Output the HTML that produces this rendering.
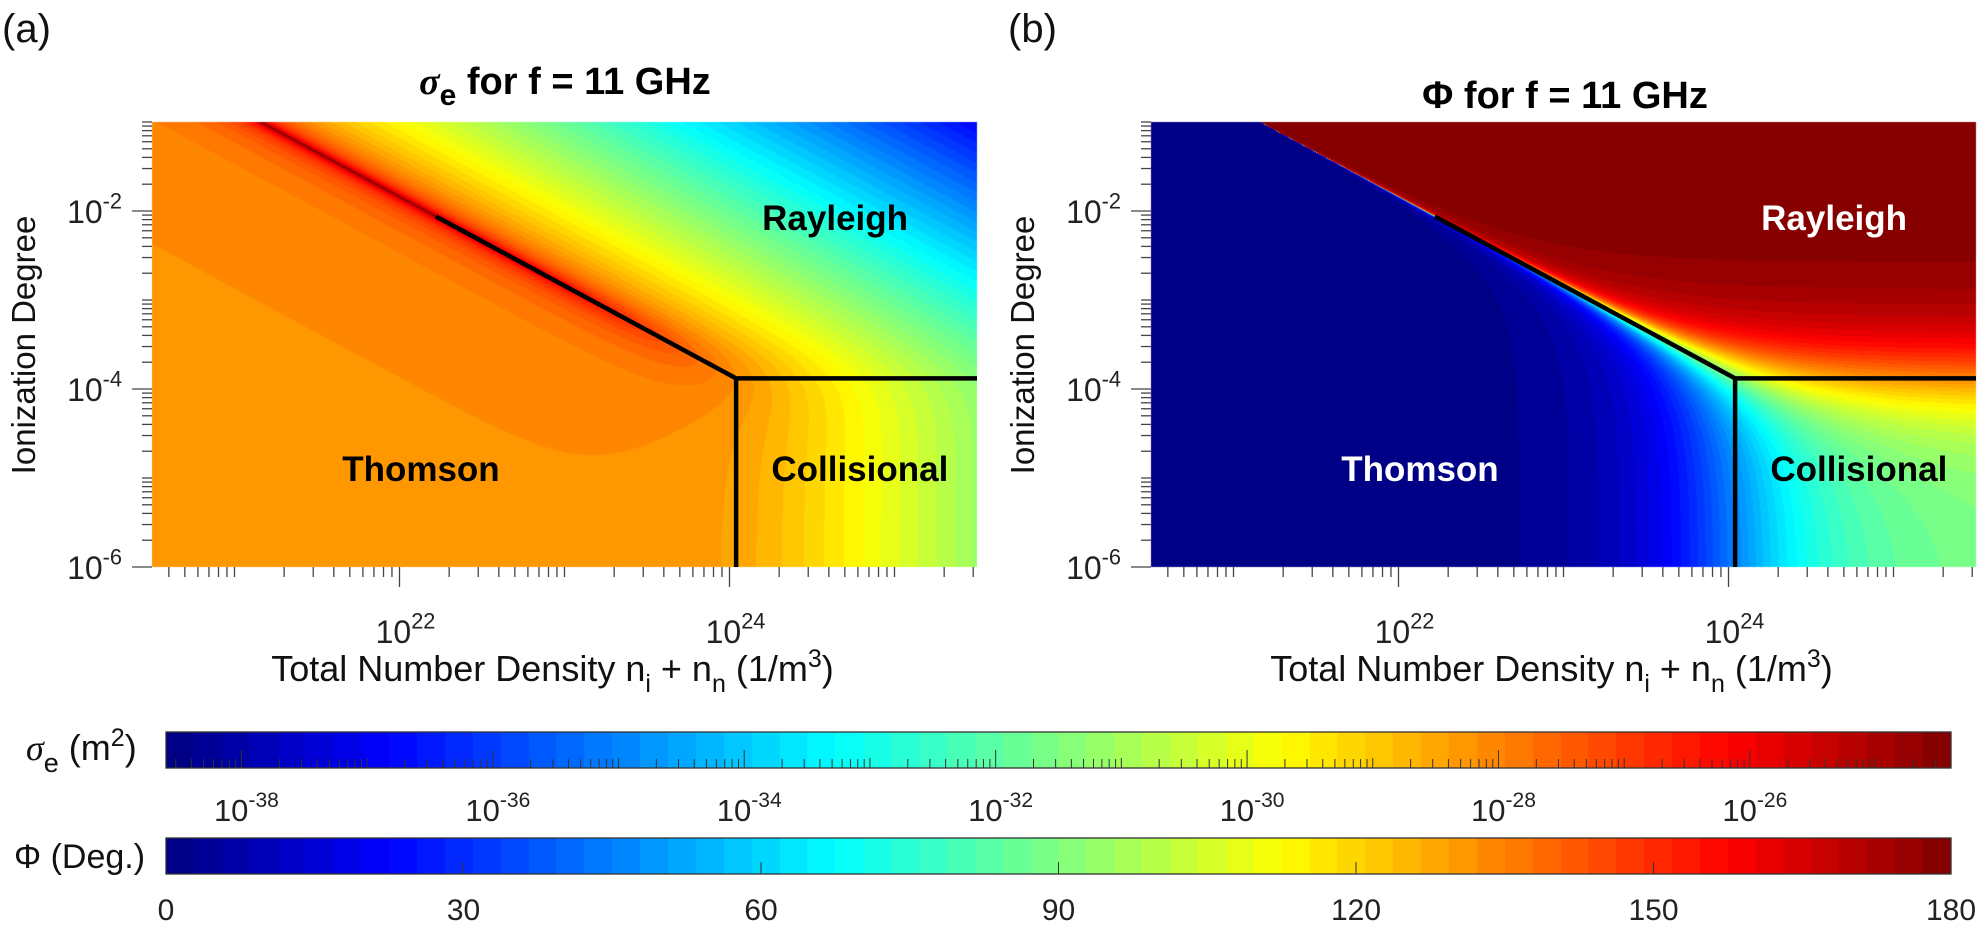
<!DOCTYPE html>
<html><head><meta charset="utf-8"><style>
html,body{margin:0;padding:0;background:#fff;}
#wrap{position:relative;width:1984px;height:926px;overflow:hidden;font-family:"Liberation Sans",sans-serif;}
canvas{position:absolute;left:0;top:0;}
svg{position:absolute;left:0;top:0;}
</style></head><body>
<div id="wrap">
<canvas id="cv" width="1984" height="926"></canvas>
<svg id="sv" width="1984" height="926" xmlns="http://www.w3.org/2000/svg"></svg>
</div>
<script>
// ---- data ----
const xRange = [20.5, 25.5];          // log10 total number density
const yRange = [-6, -1];              // log10 ionization degree
const xTickExps = [22, 24];
const yTickExps = [-6, -4, -2];
const cb1Range = [-38.6, -24.4];
const cb1TickExps = [-38, -36, -34, -32, -30, -28, -26];
const cb2Range = [0, 180];
const cb2Ticks = [0, 30, 60, 90, 120, 150, 180];
const logSigmaT = -28.18;             // Thomson cross-section (log10 m^2)
const logNeCrit = 20.16;              // plasma resonance electron density
const logNCollide = 24.04;            // collision frequency = wave frequency
const boundaryX = [22.22, 24.04, 25.5];
const boundaryY = [-2.06, -3.88, -3.88];
const vertX = [24.04, 24.04];
const vertY = [-3.88, -6];
const regionNames = ["Rayleigh", "Thomson", "Collisional"];
const regionX = [24.64, 22.13, 24.79];
const regionY = [-2.08, -4.9, -4.9];

// ---- layout ----
const panels = [
  {L:152, R:977, T:122, B:567, key:'a'},
  {L:1151, R:1976, T:122, B:567, key:'b'}
];
const CB = {L:166, R:1951, t1:732, b1:768, t2:838, b2:874};

function sx(p, v){ return p.L + (v - xRange[0])/(xRange[1]-xRange[0])*(p.R-p.L); }
function sy(p, v){ return p.B - (v - yRange[0])/(yRange[1]-yRange[0])*(p.B-p.T); }
function invx(p, px){ return xRange[0] + (px - p.L)/(p.R-p.L)*(xRange[1]-xRange[0]); }
function invy(p, py){ return yRange[0] + (p.B - py)/(p.B-p.T)*(yRange[1]-yRange[0]); }

function jet(t){
  t = Math.max(0, Math.min(0.99999, t));
  t = (Math.floor(t*64)+0.5)/64;
  const c = v => Math.round(255*Math.max(0, Math.min(1, v)));
  return [c(1.5-Math.abs(4*t-3)), c(1.5-Math.abs(4*t-2)), c(1.5-Math.abs(4*t-1))];
}
function model(lx, ly){
  const P = Math.pow(10, lx + ly - logNeCrit);
  const Q = Math.pow(10, lx - logNCollide);
  const den = (1-P)*(1-P) + Q*Q;
  const ls = logSigmaT - Math.log10(den);
  const ph = Math.atan2(Q, 1-P)*180/Math.PI;
  return [ls, ph];
}

const cv = document.getElementById('cv');
const ctx = cv.getContext('2d');
const img = ctx.createImageData(1984, 926);
function setPx(x, y, c){ const i=(y*1984+x)*4; img.data[i]=c[0]; img.data[i+1]=c[1]; img.data[i+2]=c[2]; img.data[i+3]=255; }
for (let i=0;i<img.data.length;i+=4){ img.data[i]=255; img.data[i+1]=255; img.data[i+2]=255; img.data[i+3]=255; }
panels.forEach((p, k) => {
  for (let py=p.T; py<p.B; py++){
    const ly = invy(p, py+0.5);
    for (let px=p.L; px<p.R; px++){
      const lx = invx(p, px+0.5);
      const m = model(lx, ly);
      const t = k===0 ? (m[0]-cb1Range[0])/(cb1Range[1]-cb1Range[0]) : (m[1]-cb2Range[0])/(cb2Range[1]-cb2Range[0]);
      setPx(px, py, jet(t));
    }
  }
});
for (let px=CB.L; px<CB.R; px++){
  const c = jet((px-CB.L+0.5)/(CB.R-CB.L));
  for (let py=CB.t1; py<CB.b1; py++) setPx(px, py, c);
  for (let py=CB.t2; py<CB.b2; py++) setPx(px, py, c);
}
ctx.putImageData(img, 0, 0);

// ---- svg overlay ----
const NS = 'http://www.w3.org/2000/svg';
const sv = document.getElementById('sv');
function el(tag, attrs, parent){
  const e = document.createElementNS(NS, tag);
  for (const k in attrs) e.setAttribute(k, attrs[k]);
  (parent||sv).appendChild(e);
  return e;
}
function powText(x, y, base, exp, size, anchor, name){
  const t = el('text', {x:x, y:y, 'font-size':size, 'text-anchor':anchor, fill:'#222'});
  
  
  const a = el('tspan', {}, t); a.textContent = base;
  const b = el('tspan', {dy:-size*0.45, 'font-size':size*0.68}, t); b.textContent = exp;
  return t;
}
function txt(x, y, s, attrs, name){
  const t = el('text', Object.assign({x:x, y:y}, attrs));
  t.textContent = s;
  
  
  return t;
}

panels.forEach((p, k) => {
  const g = el('g', {});
  
  
  for (let d=yRange[0]; d<yRange[1]; d++){
    for (let m=1; m<10; m++){
      const v = d + Math.log10(m);
      if (v > yRange[1]+1e-9) continue;
      const y = sy(p, v);
      const len = m===1 && yTickExps.includes(d) ? 20 : 10;
      const tk = el('line', {x1:p.L-len, x2:p.L, y1:y, y2:y, stroke:'#444', 'stroke-width':1.3}, g);
      
      
    }
  }
  el('line', {x1:p.L-10, x2:p.L, y1:p.T, y2:p.T, stroke:'#444', 'stroke-width':1.3}, g);
  for (let d=Math.floor(xRange[0]); d<=Math.ceil(xRange[1]); d++){
    for (let m=1; m<10; m++){
      const v = d + Math.log10(m);
      if (v < xRange[0]-1e-9 || v > xRange[1]+1e-9) continue;
      const x = sx(p, v);
      const len = m===1 && xTickExps.includes(d) ? 20 : 10;
      const tk = el('line', {x1:x, x2:x, y1:p.B, y2:p.B+len, stroke:'#444', 'stroke-width':1.3}, g);
      
      
    }
  }
  yTickExps.forEach(e => powText(p.L-30, sy(p, e)+12, '10', '-'+Math.abs(e), 32, 'end', 'y-tick-label'));
  xTickExps.forEach(e => powText(sx(p, e)+6, 643, '10', String(e), 32, 'middle', 'x-tick-label'));
  const pts = boundaryX.map((v,i) => sx(p,v)+','+sy(p,boundaryY[i])).join(' ');
  const bl = el('polyline', {points:pts, fill:'none', stroke:'#000', 'stroke-width':4.5, 'stroke-linejoin':'miter'}, g);
  
  
  const vl = el('line', {x1:sx(p,vertX[0]), x2:sx(p,vertX[1]), y1:sy(p,vertY[0]), y2:sy(p,vertY[1]), stroke:'#000', 'stroke-width':4.5}, g);
  
  
  regionNames.forEach((n, i) => {
    const col = k===1 && i<2 ? '#fff' : '#000';
    txt(sx(p, regionX[i]), sy(p, regionY[i])+12, n, {'font-size':35, 'font-weight':'bold', 'text-anchor':'middle', fill:col}, 'region-label-' + n.toLowerCase());
  });
  const cx = (p.L+p.R)/2 - 12;
  const xt = el('text', {x:cx, y:681, 'font-size':36, 'text-anchor':'middle', fill:'#111'});
  
  
  xt.innerHTML = 'Total Number Density n<tspan dy="11" font-size="25">i</tspan><tspan dy="-11"> + n</tspan><tspan dy="11" font-size="25">n</tspan><tspan dy="-11"> (1/m</tspan><tspan dy="-14" font-size="25">3</tspan><tspan dy="14">)</tspan>';
  const yx = p.L - 117;
  txt(yx, 345, 'Ionization Degree', {'font-size':33, 'text-anchor':'middle', fill:'#111', transform:'rotate(-90 '+yx+' 345)'}, 'y-axis-title');
});

const t1 = el('text', {x:565, y:94, 'font-size':38, 'font-weight':'bold', 'text-anchor':'middle', fill:'#000'});


t1.innerHTML = '<tspan font-style="italic" font-family="Liberation Serif">σ</tspan><tspan dy="11" font-size="30">e</tspan><tspan dy="-11"> for f = 11 GHz</tspan>';
txt(1565, 108, 'Φ for f = 11 GHz', {'font-size':38, 'font-weight':'bold', 'text-anchor':'middle', fill:'#000'}, 'title-b');
txt(2, 42, '(a)', {'font-size':40, fill:'#111'}, 'panel-label-a');
txt(1008, 42, '(b)', {'font-size':40, fill:'#111'}, 'panel-label-b');

function cbx1(v){ return CB.L + (v-cb1Range[0])/(cb1Range[1]-cb1Range[0])*(CB.R-CB.L); }
function cbx2(v){ return CB.L + (v-cb2Range[0])/(cb2Range[1]-cb2Range[0])*(CB.R-CB.L); }
const r1 = el('rect', {x:CB.L, y:CB.t1, width:CB.R-CB.L, height:CB.b1-CB.t1, fill:'none', stroke:'#333', 'stroke-width':1.3});


const r2 = el('rect', {x:CB.L, y:CB.t2, width:CB.R-CB.L, height:CB.b2-CB.t2, fill:'none', stroke:'#333', 'stroke-width':1.3});


for (let d=Math.floor(cb1Range[0]); d<=Math.ceil(cb1Range[1]); d++){
  for (let m=1; m<10; m++){
    const v = d + Math.log10(m);
    if (v < cb1Range[0] || v > cb1Range[1]) continue;
    const x = cbx1(v);
    const len = m===1 ? (cb1TickExps.includes(d) ? 18 : 10) : 9;
    const tk = el('line', {x1:x, x2:x, y1:CB.b1, y2:CB.b1-len, stroke:'#333', 'stroke-width':1});
    
    
  }
}
cb1TickExps.forEach(e => powText(cbx1(e)+5, 821, '10', '-'+Math.abs(e), 31, 'middle', 'colorbar-sigma-label'));
cb2Ticks.forEach(v => {
  const x = cbx2(v);
  if (v>0 && v<180){
    const tk = el('line', {x1:x, x2:x, y1:CB.b2, y2:CB.b2-12, stroke:'#333', 'stroke-width':1});
    
    
  }
  txt(x, 920, String(v), {'font-size':30, 'text-anchor':'middle', fill:'#222'}, 'colorbar-phase-label');
});
const l1 = el('text', {x:26, y:760, 'font-size':36, fill:'#111'});


l1.innerHTML = '<tspan font-style="italic" font-family="Liberation Serif">σ</tspan><tspan dy="12" font-size="27">e</tspan><tspan dy="-12"> (m</tspan><tspan dy="-14" font-size="25">2</tspan><tspan dy="14">)</tspan>';
txt(14, 868, 'Φ (Deg.)', {'font-size':34, fill:'#111'}, 'colorbar-phase-title');
</script>
</body></html>
